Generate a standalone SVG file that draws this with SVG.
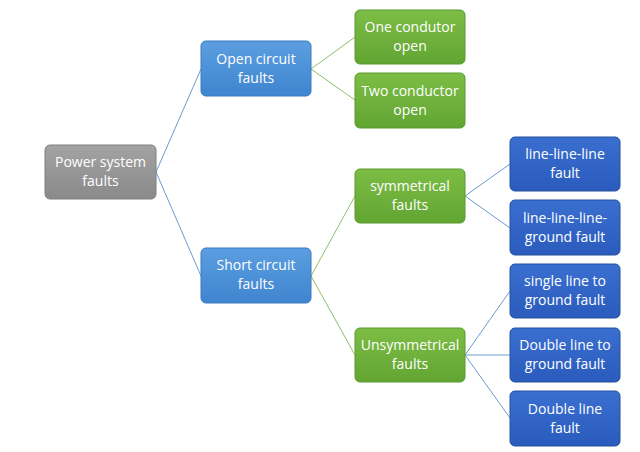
<svg xmlns="http://www.w3.org/2000/svg" width="640" height="452" viewBox="0 0 640 452">
<defs>
<linearGradient id="gg" x1="0" y1="0" x2="0" y2="1"><stop offset="0" stop-color="#a3a3a3"/><stop offset="1" stop-color="#8a8a8a"/></linearGradient>
<linearGradient id="gb" x1="0" y1="0" x2="0" y2="1"><stop offset="0" stop-color="#5b9ee0"/><stop offset="1" stop-color="#3f85cf"/></linearGradient>
<linearGradient id="gn" x1="0" y1="0" x2="0" y2="1"><stop offset="0" stop-color="#7cbd45"/><stop offset="1" stop-color="#62a532"/></linearGradient>
<linearGradient id="gd" x1="0" y1="0" x2="0" y2="1"><stop offset="0" stop-color="#3a6fd0"/><stop offset="1" stop-color="#2a5bbd"/></linearGradient>
</defs>
<style>
rect{stroke-width:1}
.g rect{fill:url(#gg);stroke:#7f7f7f}
.b rect{fill:url(#gb);stroke:#3a7bc0}
.n rect{fill:url(#gn);stroke:#5a9a2e}
.d rect{fill:url(#gd);stroke:#24509f}
text{font-family:"Open Sans","Liberation Sans",sans-serif;font-size:14px;fill:#fff;text-anchor:middle}
.cb line{stroke:#6a9bd3;stroke-width:1}
.cg line{stroke:#8cc068;stroke-width:1}
</style>
<rect width="640" height="452" fill="#fff"/>
<g id="connectors">
<g class="cb"><line x1="156" y1="172" x2="201" y2="69"/><line x1="156" y1="172" x2="201" y2="276"/>
<line x1="465" y1="196" x2="510" y2="164"/><line x1="465" y1="196" x2="510" y2="228"/>
<line x1="465" y1="355" x2="510" y2="291"/><line x1="465" y1="355" x2="510" y2="355"/><line x1="465" y1="355" x2="510" y2="418"/></g>
<g class="cg"><line x1="311" y1="69" x2="355" y2="37"/><line x1="311" y1="69" x2="355" y2="100"/>
<line x1="311" y1="276" x2="355" y2="196"/><line x1="311" y1="276" x2="355" y2="355"/></g>
</g>
<g id="power" class="g"><rect x="45" y="145" width="111" height="54" rx="5"/><text x="100.5" y="167">Power system</text><text x="100.5" y="186">faults</text></g>
<g id="open" class="b"><rect x="201" y="41" width="110" height="55" rx="5"/><text x="256" y="64">Open circuit</text><text x="256" y="83">faults</text></g>
<g id="short" class="b"><rect x="201" y="248" width="110" height="55" rx="5"/><text x="256" y="270">Short circuit</text><text x="256" y="289">faults</text></g>
<g id="one" class="n"><rect x="355" y="10" width="110" height="54" rx="5"/><text x="410" y="32">One condutor</text><text x="410" y="51">open</text></g>
<g id="two" class="n"><rect x="355" y="73" width="110" height="55" rx="5"/><text x="410" y="96">Two conductor</text><text x="410" y="115">open</text></g>
<g id="sym" class="n"><rect x="355" y="169" width="110" height="54" rx="5"/><text x="410" y="191">symmetrical</text><text x="410" y="210">faults</text></g>
<g id="unsym" class="n"><rect x="355" y="328" width="110" height="54" rx="5"/><text x="410" y="350">Unsymmetrical</text><text x="410" y="369">faults</text></g>
<g id="lll" class="d"><rect x="510" y="137" width="110" height="54" rx="5"/><text x="565" y="159">line-line-line</text><text x="565" y="178">fault</text></g>
<g id="lllg" class="d"><rect x="510" y="200" width="110" height="55" rx="5"/><text x="565" y="223">line-line-line-</text><text x="565" y="242">ground fault</text></g>
<g id="slg" class="d"><rect x="510" y="264" width="110" height="54" rx="5"/><text x="565" y="286">single line to</text><text x="565" y="305">ground fault</text></g>
<g id="dlg" class="d"><rect x="510" y="328" width="110" height="54" rx="5"/><text x="565" y="350">Double line to</text><text x="565" y="369">ground fault</text></g>
<g id="dl" class="d"><rect x="510" y="391" width="110" height="55" rx="5"/><text x="565" y="414">Double line</text><text x="565" y="433">fault</text></g>
</svg>
